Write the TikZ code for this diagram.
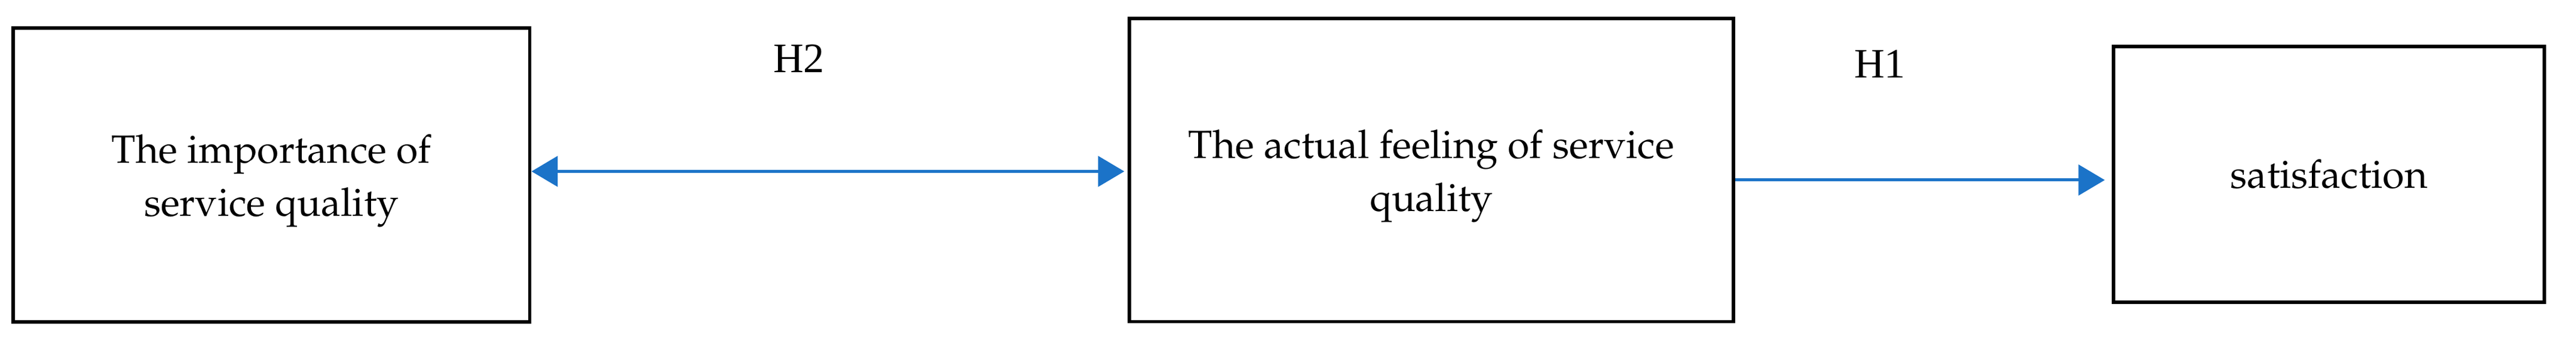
\documentclass[tikz,border=0pt]{standalone}
\usepackage[T1]{fontenc}
\usepackage{fontspec}
\setmainfont{Liberation Serif}
\usetikzlibrary{arrows.meta}
\definecolor{arrowblue}{RGB}{27,115,200}
\newcommand{\boxfont}{\fontencoding{T1}\fontfamily{ppl}\fontseries{m}\fontshape{n}\fontsize{18.8pt}{25.4pt}\selectfont}
\newcommand{\topstrut}{\rule{0pt}{0.68cm}}
\tikzset{
  box/.style={draw=black, line width=1.7pt, fill=white, align=center, inner sep=0pt, font=\boxfont},
  hlabel/.style={anchor=base, inner sep=0pt, font=\fontsize{20pt}{24pt}\selectfont},
  link/.style={draw=arrowblue, line width=1.42pt},
  bluetip/.tip={Triangle[length=0.44cm, width=0.51cm]}
}
\begin{document}
\begin{tikzpicture}
\useasboundingbox (0,0) rectangle (43.11,5.72);
\node[box, minimum width=8.645cm, minimum height=4.93cm] (imp) at (4.5425,2.785) {\topstrut The importance of\\service quality};
\node[box, minimum width=10.115cm, minimum height=5.082cm] (act) at (23.953,2.866) {\topstrut The actual feeling of service\\quality};
\node[box, minimum width=7.206cm, minimum height=4.29cm] (sat) at (38.977,2.795) {satisfaction};
\coordinate (h2y) at (0,2.845);
\coordinate (h1y) at (0,2.70);
\draw[link, bluetip-bluetip, shorten >=0.05cm] (imp.east |- h2y) -- (act.west |- h2y);
\draw[link, -bluetip, shorten >=0.12cm] (act.east |- h1y) -- (sat.west |- h1y);
\node[hlabel] (h2) at (13.37,4.50) {H2};
\node[hlabel] (h1) at (31.46,4.41) {H1};
\end{tikzpicture}
\end{document}
